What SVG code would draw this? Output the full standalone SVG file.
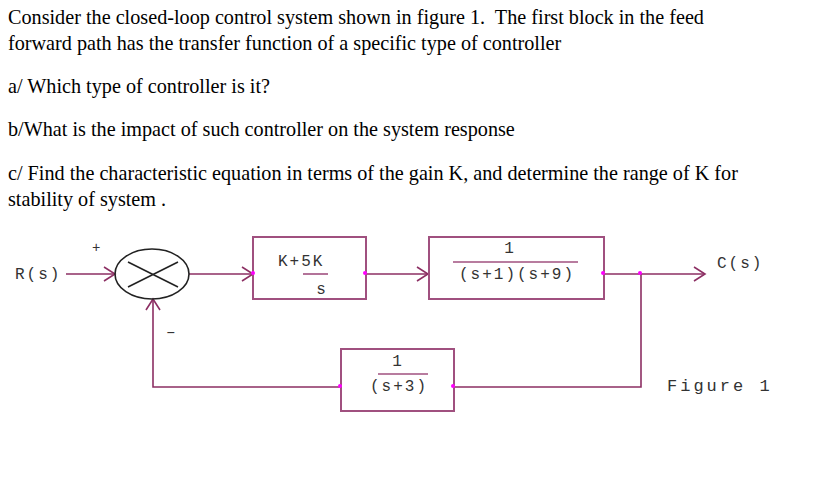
<svg xmlns="http://www.w3.org/2000/svg" width="822" height="480" viewBox="0 0 822 480">
<style>
.q{font-family:"Liberation Serif",serif;font-size:20.2px;fill:#000;white-space:pre}
.m{font-family:"Liberation Mono",monospace;font-size:16px;letter-spacing:2px;fill:#333}
.b{fill:none;stroke:#a0507f;stroke-width:2}
.w{fill:none;stroke:#8c2f63;stroke-width:1.6}
.d{fill:#ff00ff}
.bar{stroke:#a0507f;stroke-width:1.6}
</style>
<defs><marker id="a" markerWidth="14" markerHeight="16" refX="12" refY="8" orient="auto" markerUnits="userSpaceOnUse"><path d="M1,1 L12,8 L1,15" fill="none" stroke="#8c2f63" stroke-width="1.6"/></marker></defs>
<rect width="822" height="480" fill="#fff"/>
<text class="q" x="8" y="24" xml:space="preserve">Consider the closed-loop control system shown in figure 1.  The first block in the feed</text>
<text class="q" x="8" y="50">forward path has the transfer function of a specific type of controller</text>
<text class="q" x="8" y="93">a/ Which type of controller is it?</text>
<text class="q" x="8" y="136">b/What is the impact of such controller on the system response</text>
<text class="q" x="8" y="180">c/ Find the characteristic equation in terms of the gain K, and determine the range of K for</text>
<text class="q" x="8" y="206">stability of system .</text>
<g id="connectors">
<path class="w" d="M66,274 H115" marker-end="url(#a)"/>
<path class="w" d="M189,274 H253" marker-end="url(#a)"/>
<path class="w" d="M366,274 H428" marker-end="url(#a)"/>
<path class="w" d="M604,274 H705" marker-end="url(#a)"/>
<path class="w" d="M641,274 V387 H454"/>
<path class="w" d="M341,387 H153 V299" marker-end="url(#a)"/>
</g>
<g id="sum">
<ellipse cx="152" cy="274" rx="37" ry="25" fill="none" stroke="#222" stroke-width="1.6"/>
<path d="M128,262 L178,287 M128,287 L178,262" stroke="#222" stroke-width="1.6"/>
<text class="m" x="92" y="252" style="font-size:14px">+</text>
<text class="m" x="166" y="337">–</text>
</g>
<g id="R"><text class="m" x="15" y="279">R(s)</text></g>
<g id="C"><text class="m" x="717" y="268">C(s)</text></g>
<g id="block1">
<rect class="b" x="253" y="237" width="113" height="62"/>
<text class="m" x="278" y="266">K+5K</text>
<line class="bar" x1="303" y1="274" x2="328" y2="274"/>
<text class="m" x="322" y="294" text-anchor="middle">s</text>
<circle class="d" cx="253" cy="273" r="2"/><circle class="d" cx="365" cy="273" r="2"/>
</g>
<g id="block2">
<rect class="b" x="429" y="237" width="175" height="62"/>
<text class="m" x="510" y="253" text-anchor="middle">1</text>
<line class="bar" x1="453" y1="262" x2="578" y2="262"/>
<text class="m" x="517" y="279" text-anchor="middle">(s+1)(s+9)</text>
<circle class="d" cx="603" cy="273" r="2"/><circle class="d" cx="640" cy="273" r="2"/>
</g>
<g id="block3">
<rect class="b" x="341" y="349" width="113" height="62"/>
<text class="m" x="398" y="366" text-anchor="middle">1</text>
<line class="bar" x1="378" y1="374" x2="428" y2="374"/>
<text class="m" x="399" y="391" text-anchor="middle">(s+3)</text>
<circle class="d" cx="340" cy="386" r="2"/><circle class="d" cx="453" cy="386" r="2"/>
</g>
<text class="m" x="667" y="391" style="font-size:17px;letter-spacing:3px">Figure 1</text>
</svg>
